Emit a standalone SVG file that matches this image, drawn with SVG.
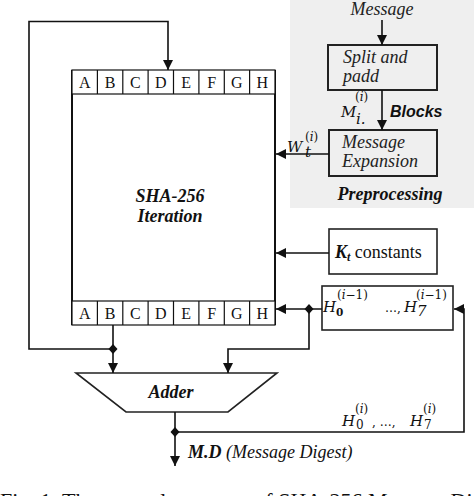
<svg xmlns="http://www.w3.org/2000/svg" width="474" height="496" viewBox="0 0 474 496">
<style>
.ln{fill:none;stroke:#111;stroke-width:1.6}
.bx{fill:#fff;stroke:#222;stroke-width:1.6}
.cell{fill:#fff;stroke:#111;stroke-width:1.2}
.reg{font-family:"Liberation Serif",serif;font-size:16px;fill:#111;text-anchor:middle}
.it{font-family:"Liberation Serif",serif;font-style:italic;font-size:18px;fill:#222}
.bi{font-family:"Liberation Serif",serif;font-style:italic;font-weight:bold;font-size:18px;fill:#111}
.m{font-family:"DejaVu Serif","Liberation Serif",serif;font-style:italic;font-size:15px;fill:#111}
.s{font-family:"DejaVu Serif","Liberation Serif",serif;font-size:12px;fill:#111}
.dm{fill:#111}
</style>
<defs>
<marker id="ah" markerUnits="userSpaceOnUse" markerWidth="10" markerHeight="10" refX="10" refY="5" orient="auto" viewBox="0 0 10 10">
<path d="M0,0 L10,5 L0,10 z" fill="#111"/>
</marker>
</defs>
<rect width="474" height="496" fill="#fff"/>

<g id="preprocessing">
<rect x="290" y="0" width="184" height="208" fill="#efefef"/>
<text class="bi" x="390" y="200" text-anchor="middle">Preprocessing</text>
</g>
<g id="message">
<text class="it" x="382" y="15" text-anchor="middle" font-size="17.5">Message</text>
</g>
<g id="split">
<rect x="328" y="45" width="109" height="45" fill="#efefef" stroke="#222" stroke-width="2"/>
<text class="it" x="343" y="63">Split and</text>
<text class="it" x="343" y="82">padd</text>
</g>
<g id="expansion">
<rect x="329" y="130" width="108" height="46" fill="#efefef" stroke="#222" stroke-width="2"/>
<text class="it" x="342" y="148">Message</text>
<text class="it" x="342" y="167">Expansion</text>
</g>
<g id="blocks-label">
<text class="m" x="341" y="117" font-size="16">M</text>
<text class="m" x="356" y="124" font-size="11">i.</text>
<text class="s" x="355" y="101" font-size="12.5">(<tspan font-style="italic">i</tspan>)</text>
<text x="390" y="117" font-family="Liberation Sans,sans-serif" font-style="italic" font-weight="bold" font-size="16" fill="#111">Blocks</text>
</g>
<g id="w-label">
<text class="m" x="287" y="152" font-size="15.5">W</text>
<text class="m" x="305" y="157" font-size="11">t</text>
<text class="s" x="305" y="141" font-size="12.5">(<tspan font-style="italic">i</tspan>)</text>
</g>

<g id="sha-block">
<rect x="72" y="94" width="203" height="207" fill="#fff" stroke="none"/>
<line x1="72" y1="70" x2="72" y2="325" stroke="#111" stroke-width="2"/>
<line x1="275" y1="70" x2="275" y2="325" stroke="#111" stroke-width="2"/>
<text class="bi" x="170" y="202" text-anchor="middle">SHA-256</text>
<text class="bi" x="170" y="222" text-anchor="middle">Iteration</text>
</g>
<g id="reg-top">
<rect class="cell" x="72" y="70" width="203" height="24"/>
<path class="cell" d="M97.4,70V94M122.8,70V94M148.1,70V94M173.5,70V94M198.9,70V94M224.3,70V94M249.6,70V94"/>
<text class="reg" y="88"><tspan x="84.7">A</tspan><tspan x="110.1">B</tspan><tspan x="135.4">C</tspan><tspan x="160.8">D</tspan><tspan x="186.2">E</tspan><tspan x="211.6">F</tspan><tspan x="236.9">G</tspan><tspan x="262.3">H</tspan></text>
</g>
<g id="reg-bottom">
<rect class="cell" x="72" y="301" width="203" height="24"/>
<path class="cell" d="M97.4,301V325M122.8,301V325M148.1,301V325M173.5,301V325M198.9,301V325M224.3,301V325M249.6,301V325"/>
<text class="reg" y="319"><tspan x="84.7">A</tspan><tspan x="110.1">B</tspan><tspan x="135.4">C</tspan><tspan x="160.8">D</tspan><tspan x="186.2">E</tspan><tspan x="211.6">F</tspan><tspan x="236.9">G</tspan><tspan x="262.3">H</tspan></text>
</g>

<g id="kt">
<rect class="bx" x="329" y="229" width="108" height="45"/>
<text x="335" y="258" font-family="Liberation Serif,serif" font-size="18" fill="#111"><tspan font-weight="bold" font-style="italic">K</tspan><tspan font-weight="bold" font-style="italic" font-size="12" dy="3">t</tspan><tspan dy="-3"> constants</tspan></text>
</g>
<g id="h-prev">
<rect class="bx" x="322" y="286" width="131" height="44"/>
<text class="m" x="323" y="312" font-size="16">H</text>
<text x="336" y="316" font-family="DejaVu Serif,serif" font-weight="bold" font-size="10.5" fill="#111">0</text>
<text class="s" x="337" y="299" font-size="12.5">(<tspan font-style="italic">i</tspan>−1)</text>
<text class="s" x="385" y="312" font-size="15">…,</text>
<text class="m" x="404" y="312" font-size="16">H</text>
<text class="m" x="417" y="316" font-size="10.5">7</text>
<text class="s" x="416" y="299" font-size="12.5">(<tspan font-style="italic">i</tspan>−1)</text>
</g>

<g id="adder">
<path class="bx" d="M76,373 H277 L228,412 H126 Z"/>
<text class="bi" x="171" y="398" text-anchor="middle" font-size="17.5">Adder</text>
</g>
<g id="h-new">
<text class="m" x="342" y="426" font-size="16">H</text>
<text class="s" x="356" y="429" font-size="10.5">0</text>
<text class="s" x="355" y="413" font-size="12.5">(<tspan font-style="italic">i</tspan>)</text>
<text class="s" x="372" y="426" font-size="15">, …,</text>
<text class="m" x="410" y="426" font-size="16">H</text>
<text class="s" x="424" y="429" font-size="10.5">7</text>
<text class="s" x="423" y="413" font-size="12.5">(<tspan font-style="italic">i</tspan>)</text>
</g>
<g id="md-label">
<text x="188" y="458" font-family="Liberation Serif,serif" font-size="18" fill="#111"><tspan font-weight="bold" font-style="italic">M.D</tspan><tspan font-style="italic"> (Message Digest)</tspan></text>
</g>
<g id="caption">
<text x="0" y="508" font-family="Liberation Serif,serif" font-size="22" fill="#111">Fig. 1. The general structure of SHA-256 Message Digest</text>
</g>

<g id="connectors">
<path class="ln" d="M113,349 H29 V21.5 H168 V70" marker-end="url(#ah)"/>
<path class="ln" d="M113,325 V373" marker-end="url(#ah)"/>
<path class="ln" d="M309,309 V349 H228 V373" marker-end="url(#ah)"/>
<path class="ln" d="M322,309 H276" marker-end="url(#ah)"/>
<path class="ln" d="M175,432 H464 V309 H454" marker-end="url(#ah)"/>
<path class="ln" d="M175,412 V466" marker-end="url(#ah)"/>
<path class="ln" d="M329,253 H276" marker-end="url(#ah)"/>
<path class="ln" d="M329,154 H276" marker-end="url(#ah)"/>
<path class="ln" d="M382,20 V45" marker-end="url(#ah)"/>
<path class="ln" d="M382,90 V130" marker-end="url(#ah)"/>
<path class="dm" d="M113,344 L117.5,349 L113,354 L108.5,349 Z"/>
<path class="dm" d="M309,304 L313.5,309 L309,314 L304.5,309 Z"/>
<path class="dm" d="M175,427 L179.5,432 L175,437 L170.5,432 Z"/>
</g>
</svg>
